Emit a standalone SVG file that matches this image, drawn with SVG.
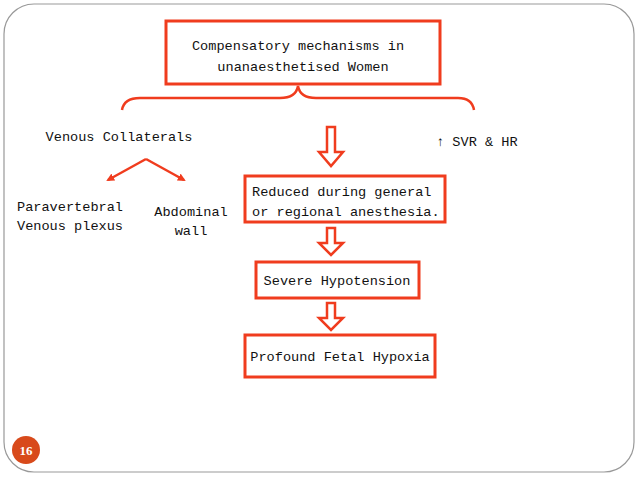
<svg xmlns="http://www.w3.org/2000/svg" width="638" height="478" viewBox="0 0 638 478">
<style>
.b{fill:#fff;stroke:#f03c1e;stroke-width:3}
.l{fill:none;stroke:#f03c1e;stroke-width:2.5}
.ha{fill:#fff;stroke:#f03c1e;stroke-width:2.5}
text{font-family:"Liberation Mono",monospace;font-size:13.6px;fill:#111}
</style>
<defs><marker id="m" markerWidth="8" markerHeight="8" refX="6" refY="4" orient="auto" markerUnits="userSpaceOnUse"><path d="M0,0L8,4L0,8z" fill="#f03c1e"/></marker></defs>
<rect width="638" height="478" fill="#fff"/>
<rect x="4" y="4" width="630" height="468" rx="30" fill="none" stroke="#999" stroke-width="1.2"/>
<g id="top"><rect class="b" x="166" y="21" width="274" height="63"/><text x="298" y="50" text-anchor="middle">Compensatory mechanisms in</text><text x="303" y="71" text-anchor="middle">unanaesthetised Women</text></g>
<g id="vc"><text x="119" y="141" text-anchor="middle">Venous Collaterals</text></g>
<g id="svr"><text x="436" y="146">↑ SVR &amp; HR</text></g>
<g id="para"><text x="70" y="211" text-anchor="middle">Paravertebral</text><text x="70" y="230" text-anchor="middle">Venous plexus</text></g>
<g id="abd"><text x="191" y="216" text-anchor="middle">Abdominal</text><text x="191" y="235" text-anchor="middle">wall</text></g>
<g id="red"><rect class="b" x="245" y="176" width="200" height="46"/><text x="252" y="196">Reduced during general</text><text x="252" y="216">or regional anesthesia.</text></g>
<g id="sev"><rect class="b" x="256" y="262" width="163" height="36"/><text x="337" y="285" text-anchor="middle">Severe Hypotension</text></g>
<g id="pro"><rect class="b" x="245" y="335" width="190" height="42"/><text x="340" y="361" text-anchor="middle">Profound Fetal Hypoxia</text></g>
<g id="connectors">
<path class="l" d="M122,110 Q124,98 140,98 L280,98 Q296,98 298,86 Q300,98 316,98 L458,98 Q472,98 474,110"/>
<path class="l" d="M146,159 L108,180" marker-end="url(#m)"/>
<path class="l" d="M146,159 L184,180" marker-end="url(#m)"/>
<path class="ha" d="M327,127h8v25h8l-12,14l-12,-14h8z"/>
<path class="ha" d="M327,228h8v15h8l-12,12l-12,-12h8z"/>
<path class="ha" d="M327,303h8v15h8l-12,12l-12,-12h8z"/>
</g>
<g id="pg"><circle cx="26" cy="450" r="14" fill="#d84a1b"/><text x="26" y="455" text-anchor="middle" style="font-family:'Liberation Serif',serif;font-size:13px;font-weight:bold;fill:#fff">16</text></g>
</svg>
